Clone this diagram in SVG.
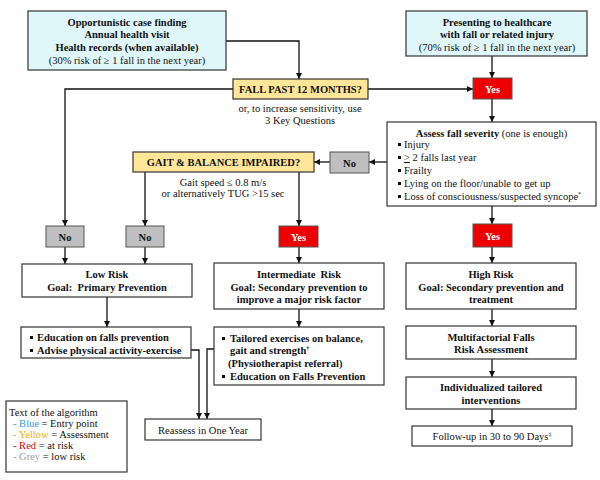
<svg xmlns="http://www.w3.org/2000/svg" width="600" height="480" viewBox="0 0 600 480">
<defs>
<marker id="ah" markerWidth="7" markerHeight="7" refX="6" refY="3" orient="auto" markerUnits="userSpaceOnUse">
<path d="M0,0 L6,3 L0,6 z" fill="#111"/>
</marker>
<style>
text{font-family:"Liberation Serif","Times New Roman",serif;font-size:10.5px;fill:#111}
.b{font-weight:bold}
.c{text-anchor:middle}
.box{fill:#fff;stroke:#333;stroke-width:1.2}
.blue{fill:#dff7fb;stroke:#333;stroke-width:1.2}
.yel{fill:#ffe699;stroke:#333;stroke-width:1.2}
.red{fill:#ee0000;stroke:#555;stroke-width:1}
.gry{fill:#bfbfbf;stroke:#555;stroke-width:1}
.w{fill:#fff;font-weight:bold}
.ln{fill:none;stroke:#111;stroke-width:1.3;marker-end:url(#ah)}
.bul{fill:#111}
</style>
</defs>
<rect width="600" height="480" fill="#fff"/>

<g id="connectors">
<polyline class="ln" points="226,41 299,41 299,79"/>
<polyline class="ln" points="233,89 65,89 65,226"/>
<polyline class="ln" points="368,89 473,89"/>
<polyline class="ln" points="492,56 492,78"/>
<polyline class="ln" points="492,99 492,122"/>
<polyline class="ln" points="492,206 492,224"/>
<polyline class="ln" points="492,247 492,263"/>
<polyline class="ln" points="492,309 492,326"/>
<polyline class="ln" points="492,359 492,377"/>
<polyline class="ln" points="492,409 492,426"/>
<polyline class="ln" points="387,162 369,162"/>
<polyline class="ln" points="330,162 314,162"/>
<polyline class="ln" points="145,172 145,226"/>
<polyline class="ln" points="299,172 299,226"/>
<polyline class="ln" points="65,247 65,264"/>
<polyline class="ln" points="145,247 145,264"/>
<polyline class="ln" points="299,247 299,263"/>
<polyline class="ln" points="107,297 107,327"/>
<polyline class="ln" points="299,309 299,327"/>
<polyline class="ln" points="191,350 199,350 199,419"/>
<polyline class="ln" points="214,349 207,349 207,419"/>
</g>

<g id="entry-opportunistic">
<rect class="blue" x="28" y="11" width="198" height="59"/>
<text class="c b" x="127" y="26">Opportunistic case finding</text>
<text class="c b" x="127" y="38">Annual health visit</text>
<text class="c b" x="127" y="51">Health records (when available)</text>
<text class="c" x="127" y="64">(30% risk of  ≥ 1 fall in the next year)</text>
</g>

<g id="entry-presenting">
<rect class="blue" x="406" y="11" width="181" height="45"/>
<text class="c b" x="497" y="26">Presenting to healthcare</text>
<text class="c b" x="497" y="38">with fall or related injury</text>
<text class="c" x="497" y="51">(70% risk of  ≥ 1 fall in the next year)</text>
</g>

<g id="fall-past">
<rect class="yel" x="233" y="79" width="135" height="20"/>
<text class="c b" x="300.5" y="93">FALL PAST 12 MONTHS?</text>
<text class="c" x="300" y="112">or, to increase sensitivity, use</text>
<text class="c" x="300" y="124">3 Key Questions</text>
</g>

<g id="yes-1">
<rect class="red" x="473" y="78" width="39" height="21"/>
<text class="c w" x="492.5" y="92.5">Yes</text>
</g>

<g id="assess">
<rect class="box" x="387" y="122" width="209" height="84"/>
<text class="c" x="491.5" y="137"><tspan class="b">Assess fall severity</tspan> (one is enough)</text>
<rect class="bul" x="398" y="143" width="3" height="3"/>
<text x="404" y="148">Injury</text>
<rect class="bul" x="398" y="156" width="3" height="3"/>
<text x="404" y="161"><tspan text-decoration="underline">&gt;</tspan> 2 falls last year</text>
<rect class="bul" x="398" y="169" width="3" height="3"/>
<text x="404" y="174">Frailty</text>
<rect class="bul" x="398" y="182" width="3" height="3"/>
<text x="404" y="187">Lying on the floor/unable to get up</text>
<rect class="bul" x="398" y="195" width="3" height="3"/>
<text x="404" y="200">Loss of consciousness/suspected syncope<tspan font-size="6" dy="-4">*</tspan></text>
</g>

<g id="no-mid">
<rect class="gry" x="330" y="152" width="39" height="21"/>
<text class="c b" x="349.5" y="166.5">No</text>
</g>

<g id="gait">
<rect class="yel" x="133" y="152" width="181" height="20"/>
<text class="c b" x="223.5" y="166">GAIT &amp; BALANCE IMPAIRED?</text>
<text class="c" x="223" y="186">Gait speed ≤ 0.8 m/s</text>
<text class="c" x="223" y="197">or alternatively TUG &gt;15 sec</text>
</g>

<g id="yes-2">
<rect class="red" x="473" y="224" width="39" height="23"/>
<text class="c w" x="492.5" y="239.5">Yes</text>
</g>

<g id="no-left">
<rect class="gry" x="46" y="226" width="38" height="21"/>
<text class="c b" x="65" y="240.5">No</text>
</g>

<g id="no-gait">
<rect class="gry" x="126" y="226" width="38" height="21"/>
<text class="c b" x="145" y="240.5">No</text>
</g>

<g id="yes-gait">
<rect class="red" x="279" y="226" width="39" height="21"/>
<text class="c w" x="298.5" y="240.5">Yes</text>
</g>

<g id="low-risk">
<rect class="box" x="22" y="264" width="170" height="33"/>
<text class="c b" x="107" y="278">Low Risk</text>
<text class="c b" x="107" y="291" xml:space="preserve">Goal:  Primary Prevention</text>
</g>

<g id="intermediate-risk">
<rect class="box" x="214" y="263" width="170" height="46"/>
<text class="c b" x="299" y="278" xml:space="preserve">Intermediate  Risk</text>
<text class="c b" x="299" y="291">Goal: Secondary prevention to</text>
<text class="c b" x="299" y="303">improve a major risk factor</text>
</g>

<g id="high-risk">
<rect class="box" x="406" y="263" width="170" height="46"/>
<text class="c b" x="491" y="278">High Risk</text>
<text class="c b" x="491" y="291">Goal: Secondary prevention and</text>
<text class="c b" x="491" y="303">treatment</text>
</g>

<g id="low-actions">
<rect class="box" x="21" y="327" width="170" height="31"/>
<rect class="bul" x="30" y="336" width="3" height="3"/>
<text class="b" x="37" y="341">Education on falls prevention</text>
<rect class="bul" x="30" y="349" width="3" height="3"/>
<text class="b" x="37" y="354">Advise physical activity-exercise</text>
</g>

<g id="intermediate-actions">
<rect class="box" x="214" y="327" width="170" height="58"/>
<rect class="bul" x="222" y="337" width="3" height="3"/>
<text class="b" x="230" y="342">Tailored exercises on balance,</text>
<text class="b" x="230" y="354">gait and strength<tspan font-size="6" dy="-4">†</tspan></text>
<text class="b" x="228" y="367">(Physiotherapist referral)</text>
<rect class="bul" x="222" y="375" width="3" height="3"/>
<text class="b" x="230" y="380">Education on Falls Prevention</text>
</g>

<g id="multifactorial">
<rect class="box" x="406" y="326" width="170" height="33"/>
<text class="c b" x="491" y="341">Multifactorial Falls</text>
<text class="c b" x="491" y="353">Risk Assessment</text>
</g>

<g id="individualized">
<rect class="box" x="406" y="377" width="170" height="32"/>
<text class="c b" x="491" y="391">Individualized tailored</text>
<text class="c b" x="491" y="404">interventions</text>
</g>

<g id="follow-up">
<rect class="box" x="412" y="426" width="160" height="20"/>
<text class="c" x="492" y="440">Follow-up in 30 to 90 Days<tspan font-size="6" dy="-4">‡</tspan></text>
</g>

<g id="reassess">
<rect class="box" x="145" y="419" width="116" height="21"/>
<text class="c" x="203" y="434">Reassess in One Year</text>
</g>

<g id="legend">
<rect class="box" x="6" y="401" width="121" height="71"/>
<text x="9" y="416">Text of the algorithm</text>
<text x="13" y="427"><tspan fill="#1ea0e0">-  Blue</tspan> = Entry point</text>
<text x="13" y="438"><tspan fill="#f0b000">-  Yellow</tspan> = Assessment</text>
<text x="13" y="449"><tspan fill="#e00000">-  Red</tspan> = at risk</text>
<text x="13" y="460"><tspan fill="#a0a0a0">-  Grey</tspan> = low risk</text>
</g>
</svg>
